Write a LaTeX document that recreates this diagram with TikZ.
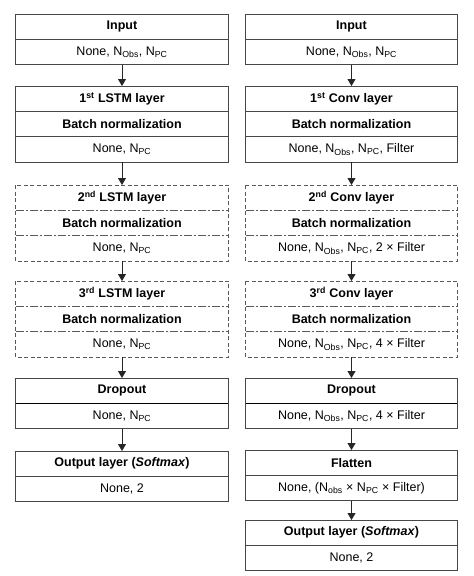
\documentclass[tikz,border=0pt]{standalone}
\usepackage{fontspec}
\setmainfont{Liberation Sans}
\usetikzlibrary{arrows.meta}
\newcommand{\Nsub}[1]{N\textsubscript{#1}}
\begin{document}
\begin{tikzpicture}[x=1pt,y=-1pt,
  cell/.style={minimum height=25pt, inner sep=0pt, anchor=north, font=\fontsize{12.5}{14}\selectfont},
  lcell/.style={cell, minimum width=212pt},
  rcell/.style={cell, minimum width=211pt},
  hd/.style={font=\fontsize{12.5}{14}\selectfont\bfseries},
  frame/.style={draw=black!72, line width=0.9pt},
  dframe/.style={draw=black!65, line width=0.8pt, dash pattern=on 4pt off 2.5pt},
  ddiv/.style={draw=black!65, line width=0.8pt, dash pattern=on 8pt off 2pt on 2pt off 2pt},
  div/.style={draw=black!72, line width=0.9pt},
  bdiv/.style={draw=black, line width=1.5pt},
  arr/.style={draw=black!85, line width=0.9pt, -{Triangle[width=8pt,length=7pt]}}
]
\useasboundingbox (0,0) rectangle (474,576);
\fill[white] (0,0) rectangle (474,576);

% ---------- left column ----------
\node[lcell, hd] (lin1) at (122,14) {Input};
\node[lcell] (lin2) at (lin1.south) {None, \Nsub{Obs}, \Nsub{PC}};

\node[lcell, hd] (la1) at (122,86) {1\textsuperscript{st} LSTM layer};
\node[lcell, hd] (la2) at (la1.south) {Batch normalization};
\node[lcell] (la3) at (la2.south) {None, \Nsub{PC}};

\node[lcell, hd] (lb1) at (122,185) {2\textsuperscript{nd} LSTM layer};
\node[lcell, hd] (lb2) at (lb1.south) {Batch normalization};
\node[lcell] (lb3) at (lb2.south) {None, \Nsub{PC}};

\node[lcell, hd] (lc1) at (122,281) {3\textsuperscript{rd} LSTM layer};
\node[lcell, hd] (lc2) at (lc1.south) {Batch normalization};
\node[lcell] (lc3) at (lc2.south) {None, \Nsub{PC}};

\node[lcell, hd] (ld1) at (122,378) {Dropout};
\node[lcell] (ld2) at (ld1.south) {None, \Nsub{PC}};

\node[lcell, hd] (lo1) at (122,451) {Output layer (\textit{Softmax})};
\node[lcell] (lo2) at (lo1.south) {None, 2};

% ---------- right column ----------
\node[rcell, hd] (rin1) at (351.5,14) {Input};
\node[rcell] (rin2) at (rin1.south) {None, \Nsub{Obs}, \Nsub{PC}};

\node[rcell, hd] (ra1) at (351.5,86) {1\textsuperscript{st} Conv layer};
\node[rcell, hd] (ra2) at (ra1.south) {Batch normalization};
\node[rcell] (ra3) at (ra2.south) {None, \Nsub{Obs}, \Nsub{PC}, Filter};

\node[rcell, hd] (rb1) at (351.5,185) {2\textsuperscript{nd} Conv layer};
\node[rcell, hd] (rb2) at (rb1.south) {Batch normalization};
\node[rcell] (rb3) at (rb2.south) {None, \Nsub{Obs}, \Nsub{PC}, 2 × Filter};

\node[rcell, hd] (rc1) at (351.5,281) {3\textsuperscript{rd} Conv layer};
\node[rcell, hd] (rc2) at (rc1.south) {Batch normalization};
\node[rcell] (rc3) at (rc2.south) {None, \Nsub{Obs}, \Nsub{PC}, 4 × Filter};

\node[rcell, hd] (rd1) at (351.5,378) {Dropout};
\node[rcell] (rd2) at (rd1.south) {None, \Nsub{Obs}, \Nsub{PC}, 4 × Filter};

\node[rcell, hd] (rf1) at (351.5,450) {Flatten};
\node[rcell] (rf2) at (rf1.south) {None, (\Nsub{obs} × \Nsub{PC} × Filter)};

\node[rcell, hd] (ro1) at (351.5,520) {Output layer (\textit{Softmax})};
\node[rcell] (ro2) at (ro1.south) {None, 2};

% ---------- frames: solid ----------
\foreach \a/\b in {lin1/lin2, la1/la3, ld1/ld2, lo1/lo2, rin1/rin2, ra1/ra3, rd1/rd2, rf1/rf2, ro1/ro2}
  \draw[frame] (\a.north west) rectangle (\b.south east);
\foreach \c in {lin1, la1, la2, lo1, rin1, ra1, ra2, rf1, ro1}
  \draw[div] (\c.south west) -- (\c.south east);
\foreach \c in {ld1, rd1}
  \draw[bdiv] (\c.south west) -- (\c.south east);

% ---------- frames: dashed ----------
\foreach \a/\b in {lb1/lb3, lc1/lc3, rb1/rb3, rc1/rc3}
  \draw[dframe] (\a.north west) rectangle (\b.south east);
\foreach \c in {lb1, lb2, lc1, lc2, rb1, rb2, rc1, rc2}
  \draw[ddiv] (\c.south west) -- (\c.south east);

% ---------- arrows ----------
\foreach \a/\b in {lin2/la1, la3/lb1, lb3/lc1, lc3/ld1, ld2/lo1,
                   rin2/ra1, ra3/rb1, rb3/rc1, rc3/rd1, rd2/rf1, rf2/ro1}
  \draw[arr] (\a.south) -- (\b.north);
\end{tikzpicture}
\end{document}
